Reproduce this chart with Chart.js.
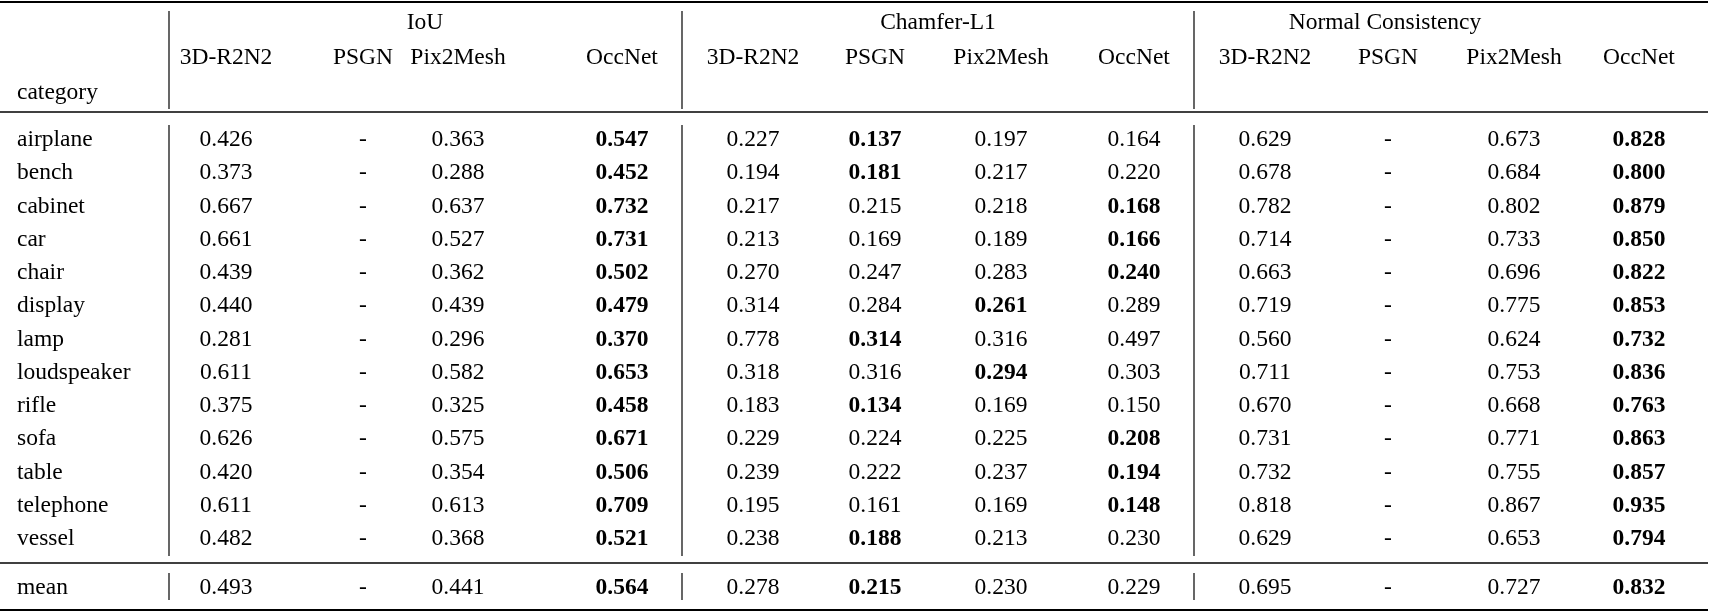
<!DOCTYPE html>
<html><head><meta charset="utf-8">
<script src="https://cdn.jsdelivr.net/npm/chart.js@4"></script>
<style>html,body{margin:0;padding:0;background:#fff}canvas{display:block}</style>
</head><body><canvas id="c" width="1710" height="613"></canvas>
<script>
const categories = ["airplane","bench","cabinet","car","chair","display","lamp","loudspeaker","rifle","sofa","table","telephone","vessel"];
const meanLabel = "mean";
const methods = ["3D-R2N2","PSGN","Pix2Mesh","OccNet"];
const metrics = ["IoU","Chamfer-L1","Normal Consistency"];
const iou_r2n2 = [0.426,0.373,0.667,0.661,0.439,0.440,0.281,0.611,0.375,0.626,0.420,0.611,0.482];
const iou_psgn = [null,null,null,null,null,null,null,null,null,null,null,null,null];
const iou_pix  = [0.363,0.288,0.637,0.527,0.362,0.439,0.296,0.582,0.325,0.575,0.354,0.613,0.368];
const iou_occ  = [0.547,0.452,0.732,0.731,0.502,0.479,0.370,0.653,0.458,0.671,0.506,0.709,0.521];
const ch_r2n2 = [0.227,0.194,0.217,0.213,0.270,0.314,0.778,0.318,0.183,0.229,0.239,0.195,0.238];
const ch_psgn = [0.137,0.181,0.215,0.169,0.247,0.284,0.314,0.316,0.134,0.224,0.222,0.161,0.188];
const ch_pix  = [0.197,0.217,0.218,0.189,0.283,0.261,0.316,0.294,0.169,0.225,0.237,0.169,0.213];
const ch_occ  = [0.164,0.220,0.168,0.166,0.240,0.289,0.497,0.303,0.150,0.208,0.194,0.148,0.230];
const nc_r2n2 = [0.629,0.678,0.782,0.714,0.663,0.719,0.560,0.711,0.670,0.731,0.732,0.818,0.629];
const nc_psgn = [null,null,null,null,null,null,null,null,null,null,null,null,null];
const nc_pix  = [0.673,0.684,0.802,0.733,0.696,0.775,0.624,0.753,0.668,0.771,0.755,0.867,0.653];
const nc_occ  = [0.828,0.800,0.879,0.850,0.822,0.853,0.732,0.836,0.763,0.863,0.857,0.935,0.794];
const mean_iou = [0.493,null,0.441,0.564];
const mean_ch  = [0.278,0.215,0.230,0.229];
const mean_nc  = [0.695,null,0.727,0.832];

// layout
const colX = [226,363,458,622,753,875,1001,1134,1265,1388,1514,1639];
const groupX = [425,938,1385];
const sepX = [169,682,1194];
const groups = [
  {cols:[iou_r2n2,iou_psgn,iou_pix,iou_occ], mean:mean_iou, best:"max"},
  {cols:[ch_r2n2,ch_psgn,ch_pix,ch_occ], mean:mean_ch, best:"min"},
  {cols:[nc_r2n2,nc_psgn,nc_pix,nc_occ], mean:mean_nc, best:"max"}
];

const tablePlugin = {
  id:'table',
  afterDraw(chart){
    const ctx = chart.ctx, X = chart.scales.x, Y = chart.scales.y;
    const px = v => X.getPixelForValue(v), py = v => Y.getPixelForValue(v);
    ctx.save();
    ctx.fillStyle = '#000'; ctx.strokeStyle = '#000';
    const font = b => (b ? 'bold ' : '') + '23.5px "Liberation Serif", "Times New Roman", serif';
    ctx.textBaseline = 'middle';
    const hline = (y,w) => { ctx.lineWidth = w; ctx.beginPath(); ctx.moveTo(px(0),py(y)); ctx.lineTo(px(1708),py(y)); ctx.stroke(); };
    const vline = (x,y0,y1) => { ctx.lineWidth = 1.2; ctx.beginPath(); ctx.moveTo(px(x),py(y0)); ctx.lineTo(px(x),py(y1)); ctx.stroke(); };
    hline(2,2); hline(112,1.3); hline(563,1.3); hline(610,2);
    sepX.forEach(x => { vline(x,11,109); vline(x,125,556); vline(x,573,600); });
    ctx.font = font(false);
    ctx.textAlign = 'center';
    metrics.forEach((m,i) => ctx.fillText(m, px(groupX[i]), py(23)));
    for (let g=0; g<3; g++) methods.forEach((m,j) => ctx.fillText(m, px(colX[g*4+j]), py(58)));
    ctx.textAlign = 'left';
    ctx.fillText("category", px(17), py(93));
    const rowY = i => 140 + i*33.25;
    const drawRow = (label, vals, y) => {
      ctx.textAlign = 'left'; ctx.font = font(false);
      ctx.fillText(label, px(17), py(y));
      groups.forEach((g,gi) => {
        const v = vals(g);
        const nums = v.filter(a => a!==null);
        const best = g.best==="max" ? Math.max(...nums) : Math.min(...nums);
        v.forEach((a,j) => {
          ctx.textAlign = 'center';
          ctx.font = font(a!==null && a===best);
          ctx.fillText(a===null ? "-" : a.toFixed(3), px(colX[gi*4+j]), py(y));
        });
      });
    };
    categories.forEach((c,i) => drawRow(c, g => g.cols.map(col => col[i]), rowY(i)));
    drawRow(meanLabel, g => g.mean, 588);
    ctx.restore();
  }
};

new Chart(document.getElementById('c'), {
  type:'scatter',
  data:{datasets:[{data:[]}]},
  options:{
    responsive:false, animation:false,
    layout:{padding:0},
    plugins:{legend:{display:false},tooltip:{enabled:false}},
    scales:{
      x:{type:'linear',min:0,max:1710,display:false},
      y:{type:'linear',min:0,max:613,reverse:true,display:false}
    }
  },
  plugins:[tablePlugin]
});
</script></body></html>
